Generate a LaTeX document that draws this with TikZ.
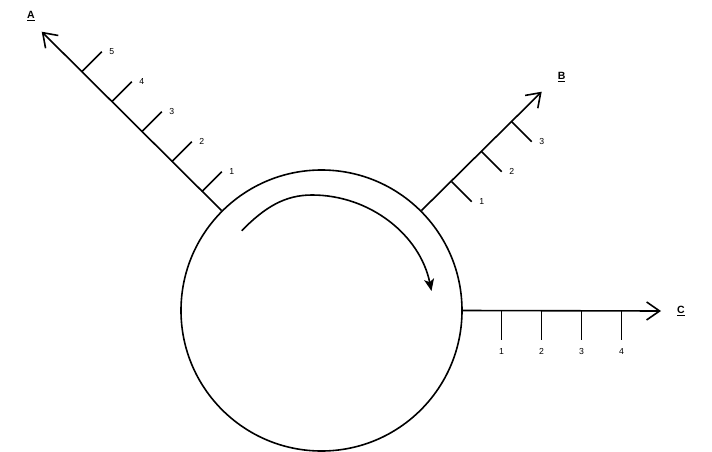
\documentclass[tikz,border=0pt]{standalone}
\usepackage{fontspec}
\setmainfont{Liberation Sans}
\usetikzlibrary{arrows.meta,calc}
\begin{document}
\begin{tikzpicture}[x=1pt,y=-1pt,
  axis/.style={line width=1.6pt,-{Straight Barb[length=13pt,width=18pt,line width=1.6pt]}},
  tick/.style={line width=1.6pt},
  ticklabel/.style={font=\fontsize{8.7}{10}\selectfont,inner sep=0pt},
  axislabel/.style={font=\fontsize{10.5}{12}\selectfont\bfseries,inner sep=0pt},
  turn/.style={line width=1.6pt,-{Stealth[length=12pt,width=10pt,inset=3pt]}}]
\useasboundingbox (0,0) rectangle (712,452);
\node[circle,draw,line width=1.6pt,minimum size=281pt,inner sep=0pt] (circ) at (321.5,310.5) {};
% axis ends
\coordinate (Atip) at (41.7,31.7);
\coordinate (Btip) at (541.7,91.7);
\coordinate (Ctip) at (661,311);
\draw[axis] (circ.135) -- (Atip);
\draw[axis] (circ.45) -- (Btip);
\draw[axis] (circ.east) -- (Ctip);
\node[axislabel] (Alab) at (31,16) {\underline{A}};
\node[axislabel] (Blab) at (561.7,76.7) {\underline{B}};
\node[axislabel] (Clab) at (681,311) {\underline{C}};
% ticks A
\foreach \k in {1,...,5}{
  \coordinate (a\k) at ({201.7-30*(\k-1)},{191.7-30*(\k-1)});
  \coordinate (ae\k) at ($(a\k)+(20,-20)$);
  \draw[tick] (a\k) -- (ae\k);
  \node[ticklabel] (al\k) at ($(ae\k)+(10,0)$) {\k};
}
% ticks B
\foreach \k in {1,...,3}{
  \coordinate (b\k) at ({451.7+30*(\k-1)},{181.7-30*(\k-1)});
  \coordinate (be\k) at ($(b\k)+(20,20)$);
  \draw[tick] (b\k) -- (be\k);
  \node[ticklabel] (bl\k) at ($(be\k)+(10,0)$) {\k};
}
% ticks C
\foreach \k in {1,...,4}{
  \coordinate (c\k) at ({501.5+40*(\k-1)},311);
  \coordinate (ce\k) at ({501.5+40*(\k-1)},340);
  \draw[tick] (c\k) -- (ce\k);
  \node[ticklabel] (cl\k) at ({501.5+40*(\k-1)},351.7) {\k};
}
% rotation arrow
\coordinate (rs) at (241.7,230.7);
\coordinate (rm) at (312,195);
\coordinate (re) at (431.5,291);
\draw[turn] (rs) .. controls (265,207) and (285,195) .. (rm)
  .. controls (370,195) and (420,235) .. (re);
\end{tikzpicture}
\end{document}
